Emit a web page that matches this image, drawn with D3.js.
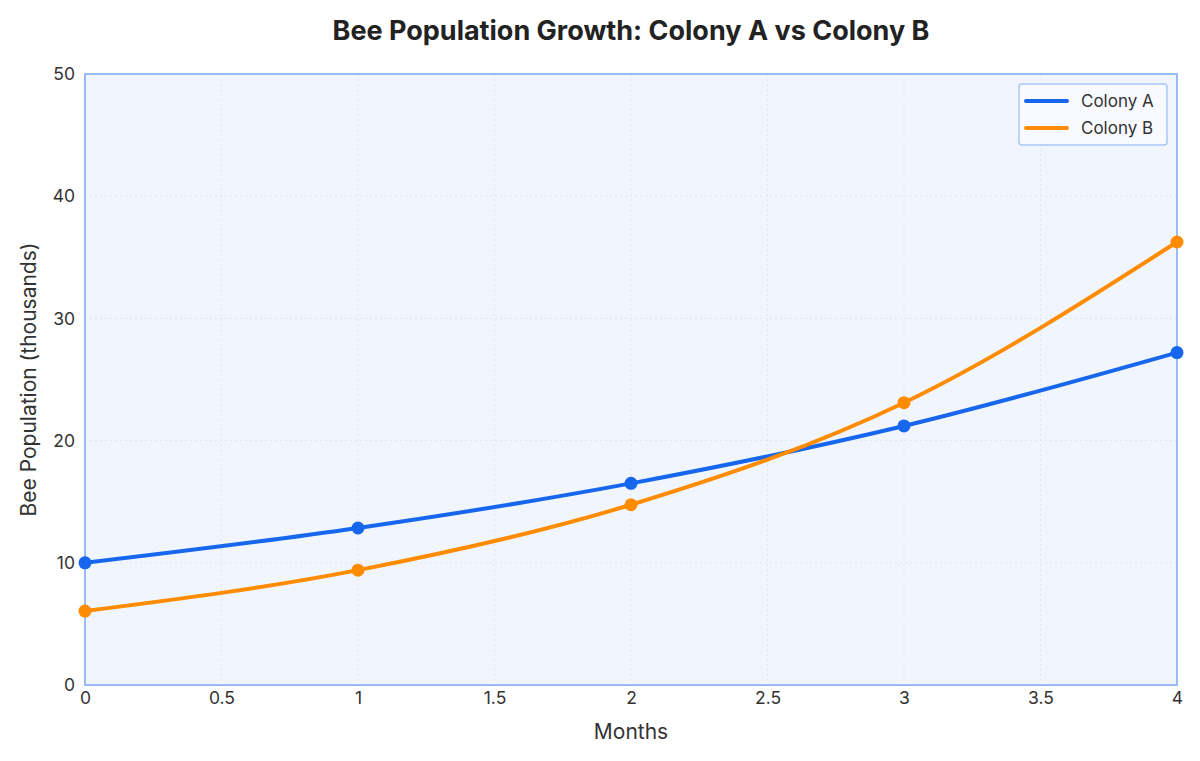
<!DOCTYPE html>
<html>
<head>
<meta charset="utf-8">
<script src="https://cdn.jsdelivr.net/npm/d3@7"></script>
<style>
  body { margin: 0; background: #fff; font-family: Inter, "Noto Sans", sans-serif; }
  .tick text { fill: #333; font-size: 17.5px; }
</style>
</head>
<body>
<div id="chart"></div>
<script>
var months = [0, 1, 2, 3, 4];
var colonyA = [10, 12.85, 16.5, 21.2, 27.2];
var colonyB = [6.05, 9.4, 14.75, 23.1, 36.25];
var seriesNames = ["Colony A", "Colony B"];
var seriesColors = ["#1766ee", "#ff8c00"];
var xTicks = [0, 0.5, 1, 1.5, 2, 2.5, 3, 3.5, 4];
var yTicks = [0, 10, 20, 30, 40, 50];

var W = 1200, H = 761;
var margin = {left: 85, right: 23, top: 74, bottom: 76};
var width = W - margin.left - margin.right,
  height = H - margin.top - margin.bottom;

var svg = d3.select("#chart").append("svg")
  .attr("width", W)
  .attr("height", H);

var x = d3.scaleLinear().domain([0, 4]).range([0, width]);
var y = d3.scaleLinear().domain([0, 50]).range([height, 0]);

svg.append("text")
  .attr("x", 631).attr("y", 40)
  .attr("text-anchor", "middle")
  .style("font-size", "27px")
  .style("font-weight", "700")
  .style("fill", "#222")
  .text("Bee Population Growth: Colony A vs Colony B");

var g = svg.append("g")
  .attr("transform", `translate(${margin.left},${margin.top})`);

g.append("rect")
  .attr("width", width).attr("height", height)
  .style("fill", "#f1f6fe");

// grid
g.append("g").selectAll("line.vg")
  .data(xTicks.slice(1, -1))
  .join("line")
  .attr("x1", (d) => x(d)).attr("x2", (d) => x(d))
  .attr("y1", 0).attr("y2", height)
  .style("stroke", "#dfe4ee").style("stroke-width", 1)
  .style("stroke-dasharray", "2,3");
g.append("g").selectAll("line.hg")
  .data(yTicks.slice(1, -1))
  .join("line")
  .attr("x1", 0).attr("x2", width)
  .attr("y1", (d) => y(d)).attr("y2", (d) => y(d))
  .style("stroke", "#dfe4ee").style("stroke-width", 1)
  .style("stroke-dasharray", "2,3");

// axes
var xAxis = d3.axisBottom(x).tickValues(xTicks).tickSize(0).tickPadding(7)
  .tickFormat(d3.format("~g"));
var yAxis = d3.axisLeft(y).tickValues(yTicks).tickSize(0).tickPadding(10);
g.append("g").attr("class", "x axis")
  .attr("transform", `translate(0,${height})`)
  .call(xAxis)
  .call((s) => s.select(".domain").remove());
g.append("g").attr("class", "y axis")
  .call(yAxis)
  .call((s) => s.select(".domain").remove());
g.selectAll(".tick text").style("font-family", "Inter, sans-serif");

g.append("rect")
  .attr("width", width).attr("height", height)
  .style("fill", "none")
  .style("stroke", "#98bbf6").style("stroke-width", 2);

svg.append("text")
  .attr("x", margin.left + width / 2).attr("y", 739)
  .attr("text-anchor", "middle")
  .style("font-size", "21px").style("fill", "#333")
  .text("Months");
svg.append("text")
  .attr("transform", `translate(36,${margin.top + height / 2}) rotate(-90)`)
  .attr("text-anchor", "middle")
  .style("font-size", "21px").style("fill", "#333")
  .text("Bee Population (thousands)");

var line = d3.line()
  .x((d) => x(d[0]))
  .y((d) => y(d[1]))
  .curve(d3.curveMonotoneX);

var plot = g.append("g");
[colonyA, colonyB].forEach((vals, i) => {
  var pts = months.map((m, j) => [m, vals[j]]);
  plot.append("path")
    .datum(pts)
    .attr("d", line)
    .style("fill", "none")
    .style("stroke", seriesColors[i])
    .style("stroke-width", 4);
  plot.selectAll(null)
    .data(pts)
    .join("circle")
    .attr("cx", (d) => x(d[0]))
    .attr("cy", (d) => y(d[1]))
    .attr("r", 6.5)
    .style("fill", seriesColors[i]);
});

// legend
var lg = svg.append("g").attr("transform", "translate(1019,84)");
lg.append("rect")
  .attr("width", 148).attr("height", 61).attr("rx", 3)
  .style("fill", "#f8faff").style("stroke", "#a9c6f7").style("stroke-width", 1.5);
seriesNames.forEach((name, i) => {
  lg.append("line")
    .attr("x1", 7).attr("x2", 48)
    .attr("y1", 17 + i * 27).attr("y2", 17 + i * 27)
    .style("stroke", seriesColors[i]).style("stroke-width", 4)
    .style("stroke-linecap", "round");
  lg.append("text")
    .attr("x", 62).attr("y", 23 + i * 27)
    .style("font-size", "17px").style("fill", "#333")
    .text(name);
});
</script>
</body>
</html>
